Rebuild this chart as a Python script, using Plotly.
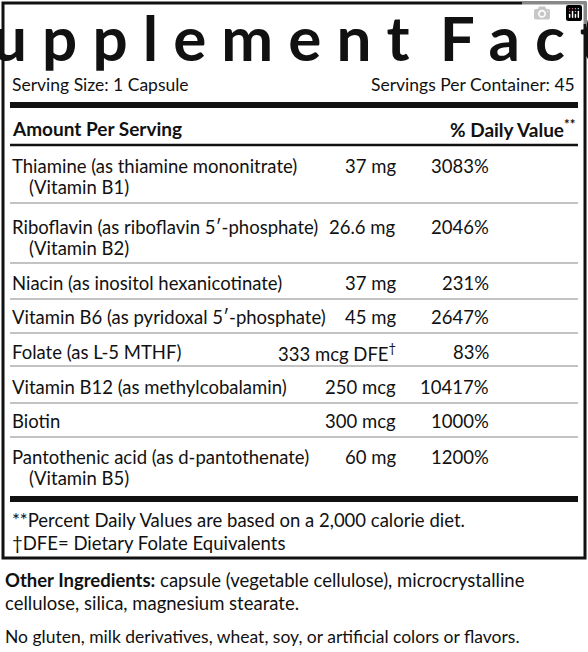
import plotly.graph_objects as go

# nutrient rows: (main line, second line)
nutrients = [
    ("Thiamine (as thiamine mononitrate)", "(Vitamin B1)"),
    ("Riboflavin (as riboflavin 5\u2032-phosphate)", "(Vitamin B2)"),
    ("Niacin (as inositol hexanicotinate)", ""),
    ("Vitamin B6 (as pyridoxal 5\u2032-phosphate)", ""),
    ("Folate (as L-5 MTHF)", ""),
    ("Vitamin B12 (as methylcobalamin)", ""),
    ("Biotin", ""),
    ("Pantothenic acid (as d-pantothenate)", "(Vitamin B5)"),
]
amounts = ["37 mg", "26.6 mg", "37 mg", "45 mg", "333 mcg DFE<sup>\u2020</sup>",
           "250 mcg", "300 mcg", "60 mg"]
daily_values = ["3083%", "2046%", "231%", "2647%", "83%", "10417%", "1000%", "1200%"]

row_y = [166, 227, 283, 317, 352, 387, 421, 457]
rule_y = [203, 263, 299, 333, 366, 403, 437]

FONT = "Lato, Open Sans, sans-serif"
fig = go.Figure()
fig.update_layout(
    width=588, height=652, margin=dict(l=0, r=0, t=0, b=0),
    paper_bgcolor="white", plot_bgcolor="white", showlegend=False,
    xaxis=dict(range=[0, 588], visible=False, fixedrange=True),
    yaxis=dict(range=[652, 0], visible=False, fixedrange=True),
)

shapes = [
    dict(type="rect", x0=3, x1=585, y0=3, y1=558, line=dict(color="#111", width=3)),
    dict(type="rect", x0=10, x1=578, y0=102, y1=108, fillcolor="#111", line_width=0),
    dict(type="line", x0=10, x1=578, y0=145, y1=145, line=dict(color="#111", width=2.5)),
    dict(type="rect", x0=10, x1=578, y0=496, y1=502, fillcolor="#111", line_width=0),
]
for y in rule_y:
    shapes.append(dict(type="line", x0=10, x1=578, y0=y, y1=y, line=dict(color="#888", width=1.2)))
fig.update_layout(shapes=shapes)


def txt(x, y, s, size=18.5, anchor="left", bold=False, color="#111"):
    fig.add_annotation(x=x, y=y, text=f"<b>{s}</b>" if bold else s, showarrow=False,
                       xanchor=anchor, yanchor="middle",
                       font=dict(family=FONT, size=size, color=color))


fig.add_annotation(x=294, y=37, text="<b>S u p p l e m e n t  F a c t s</b>", showarrow=False,
                   xanchor="center", yanchor="middle",
                   font=dict(family="Lato, DejaVu Sans", size=62, color="#111"))
txt(10, 84, "Serving Size: 1 Capsule", 17.5)
txt(577, 84, "Servings Per Container: 45", 17.5, anchor="right")
txt(10, 128, "Amount Per Serving", 19, bold=True)
txt(577, 128, "% Daily Value<sup>**</sup>", 19, anchor="right", bold=True)

for (name, sub), amt, dv, y in zip(nutrients, amounts, daily_values, row_y):
    txt(10, y, name)
    if sub:
        txt(27, y + 21, sub)
    txt(398, y, amt, anchor="right")
    txt(491, y, dv, anchor="right")

txt(10, 520, "**Percent Daily Values are based on a 2,000 calorie diet.")
txt(10, 543, "\u2020DFE= Dietary Folate Equivalents")
txt(3, 580, "<b>Other Ingredients:</b> capsule (vegetable cellulose), microcrystalline")
txt(3, 603, "cellulose, silica, magnesium stearate.")
txt(3, 636, "No gluten, milk derivatives, wheat, soy, or artificial colors or flavors.", 17.5)

fig.write_html("out.html", post_script="document.body.style.margin='0';")
